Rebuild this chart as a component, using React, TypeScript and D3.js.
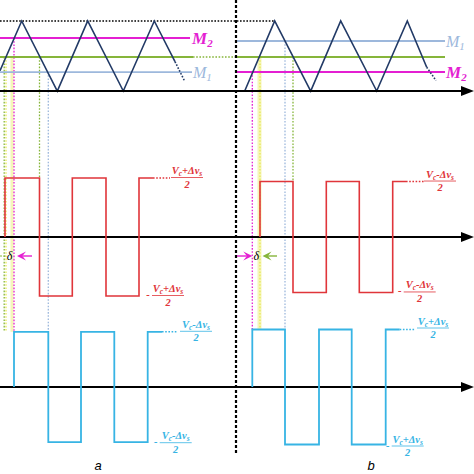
import React from 'react';
import * as d3 from 'd3';

const W = 474;
const H = 474;

// carrier (triangle) vertices, [time, level 0..1]
const carrierA: [number, number][] = [[0, 0.29], [21.7, 1], [57.3, 0], [87.7, 1], [123.3, 0], [154.3, 1], [175, 0.42]];
const carrierATail: [number, number][] = [[175, 0.42], [184.3, 0.15]];
const carrierB: [number, number][] = [[244.7, 0], [274.7, 1], [310.7, 0], [340.7, 1], [376.7, 0], [407.3, 1], [426.7, 0.34]];
const carrierBTail: [number, number][] = [[426.7, 0.34], [436, 0.15]];

// modulating levels [M2, mid, M1]
const levelsA = [0.757, 0.486, 0.271];
const levelsB = [0.271, 0.486, 0.714];

// switching instants (pulse edges), solid end, dotted end
const redEdgesA = [5, 39.5, 72.3, 106, 139];
const redEndA = [153, 170];
const blueEdgesA = [14, 48.3, 81, 114.3, 147.7];
const blueEndA = [162, 178];
const redEdgesB = [260, 293, 326.3, 359.3, 392.7];
const redEndB = [406, 424];
const blueEdgesB = [252.3, 285, 319, 351.7, 385.7];
const blueEndB = [399.7, 415];

// pulse amplitudes (relative)
const ampRed = [1, 0.94];
const ampBlue = [0.96, 1];

const panelSplit = 236;
const panelLabels = ['a', 'b'];
const panelLabelAt = [98, 371];

const C = {
  navy: '#223a66',
  red: '#e0353a',
  blue: '#37b4e4',
  magenta: '#e41fd2',
  green: '#86b53a',
  light: '#9db8dc',
  yellow: '#e6e85a',
};

const x = d3.scaleLinear().domain([0, W]).range([0, W]);
const yCar = d3.scaleLinear().domain([0, 1]).range([91, 21]);
const yRed = d3.scaleLinear().domain([-1, 1]).range([296, 178]);
const yBlue = d3.scaleLinear().domain([-1, 1]).range([444.5, 329.5]);

const dotted = '1.6,1.6';

function pulse(edges: number[], amp: number, end: number): [number, number][] {
  const pts: [number, number][] = [[edges[0], 0]];
  edges.forEach((e, i) => pts.push([e, i % 2 === 0 ? amp : -amp]));
  pts.push([end, edges.length % 2 === 1 ? amp : -amp]);
  return pts;
}

function Frac({ cx, lvl, sign, color, minus }: { cx: number; lvl: number; sign: string; color: string; minus?: boolean }) {
  const w = 32;
  return (
    <g fill={color} fontFamily="Liberation Serif" fontStyle="italic" fontWeight="bold">
      {minus && (
        <text x={cx - w / 2 - 4} y={lvl + 2} fontSize={10.5} textAnchor="middle">-</text>
      )}
      <text x={cx} y={lvl - 4} fontSize={10.5} textAnchor="middle">
        V<tspan fontSize={7.5} dy={2}>c</tspan>
        <tspan dy={-2}>{sign}Δv</tspan>
        <tspan fontSize={7.5} dy={2}>s</tspan>
      </text>
      <line x1={cx - w / 2} x2={cx + w / 2} y1={lvl - 0.5} y2={lvl - 0.5} stroke={color} strokeWidth={0.8} />
      <text x={cx} y={lvl + 9.5} fontSize={10.5} textAnchor="middle">2</text>
    </g>
  );
}

function Arrow({ x1, x2, y, color }: { x1: number; x2: number; y: number; color: string }) {
  const d = x2 > x1 ? 1 : -1;
  const hl = 9;
  return (
    <g>
      <line x1={x1} x2={x2 - d * hl * 0.6} y1={y} y2={y} stroke={color} strokeWidth={1.4} />
      <path
        d={`M${x2},${y} L${x2 - d * hl},${y - 4.5} L${x2 - d * hl * 0.6},${y} L${x2 - d * hl},${y + 4.5} Z`}
        fill={color}
      />
    </g>
  );
}

function AxisArrow({ y }: { y: number }) {
  return (
    <g>
      <line x1={0} x2={W - 6} y1={y} y2={y} stroke="#000" strokeWidth={2} />
      <path d={`M${W},${y} L${W - 13},${y - 5} L${W - 13},${y + 5} Z`} fill="#000" />
    </g>
  );
}

export default function App() {
  const line = d3.line<[number, number]>().x((d) => x(d[0])).y((d) => yCar(d[1]));
  const lineRed = d3.line<[number, number]>().x((d) => x(d[0])).y((d) => yRed(d[1])).curve(d3.curveStepAfter);
  const lineBlue = d3.line<[number, number]>().x((d) => x(d[0])).y((d) => yBlue(d[1])).curve(d3.curveStepAfter);

  const redA = pulse(redEdgesA, ampRed[0], redEndA[0]);
  const redB = pulse(redEdgesB, ampRed[1], redEndB[0]);
  const blueA = pulse(blueEdgesA, ampBlue[0], blueEndA[0]);
  const blueB = pulse(blueEdgesB, ampBlue[1], blueEndB[0]);

  const xs = x(panelSplit);
  const vTopA = yBlue(ampBlue[0]);
  const vTopB = yBlue(ampBlue[1]);

  // vertical projection lines: [time, carrier level, bottom y, colour]
  const projA: [number, number, number, string][] = [
    [redEdgesA[0] - 0.8, levelsA[1], vTopA, C.green],
    [redEdgesA[0] + 1, levelsA[1], vTopA, C.yellow],
    [blueEdgesA[0], levelsA[0], vTopA, C.magenta],
    [redEdgesA[1], levelsA[1], yRed(ampRed[0]), C.green],
    [blueEdgesA[1], levelsA[2], vTopA, C.light],
  ];
  const projB: [number, number, number, string][] = [
    [blueEdgesB[0], levelsB[0], vTopB, C.magenta],
    [redEdgesB[0], levelsB[1], vTopB, C.yellow],
    [blueEdgesB[1], levelsB[2], vTopB, C.light],
    [redEdgesB[1], levelsB[1], yRed(ampRed[1]), C.green],
  ];

  const dY = 256;

  return (
    <svg width={W} height={H} style={{ position: 'absolute', left: 0, top: 0, background: '#fff' }}>
      {/* yellow highlight strips */}
      <rect x={x(blueEdgesA[0]) - 3.5} y={yCar(levelsA[1])} width={3} height={vTopA - yCar(levelsA[1])} fill="#f6f6b8" />
      <rect x={x(redEdgesB[0]) - 2.5} y={yCar(levelsB[1])} width={4} height={vTopB - yCar(levelsB[1])} fill="#f6f6b8" />

      {/* projection lines */}
      {[...projA, ...projB].map(([t, l, yb, c], i) => (
        <line key={i} x1={x(t)} x2={x(t)} y1={yCar(l)} y2={yb} stroke={c} strokeWidth={1.3} strokeDasharray={dotted} />
      ))}

      {/* top dotted peak line */}
      <line x1={0} x2={x(carrierB[1][0])} y1={yCar(1)} y2={yCar(1)} stroke="#000" strokeWidth={1.3} strokeDasharray={dotted} />

      {/* modulating levels, panel a */}
      <line x1={0} x2={x(190)} y1={yCar(levelsA[0])} y2={yCar(levelsA[0])} stroke={C.magenta} strokeWidth={2} />
      <line x1={0} x2={x(193)} y1={yCar(levelsA[1])} y2={yCar(levelsA[1])} stroke={C.green} strokeWidth={1.8} />
      <line x1={x(193)} x2={xs} y1={yCar(levelsA[1])} y2={yCar(levelsA[1])} stroke={C.green} strokeWidth={1.3} strokeDasharray={dotted} />
      <line x1={0} x2={x(192)} y1={yCar(levelsA[2])} y2={yCar(levelsA[2])} stroke={C.light} strokeWidth={1.8} />
      {/* panel b */}
      <line x1={xs} x2={x(445)} y1={yCar(levelsB[2])} y2={yCar(levelsB[2])} stroke={C.light} strokeWidth={1.8} />
      <line x1={xs} x2={x(445)} y1={yCar(levelsB[1])} y2={yCar(levelsB[1])} stroke={C.green} strokeWidth={1.8} />
      <line x1={xs} x2={x(445)} y1={yCar(levelsB[0])} y2={yCar(levelsB[0])} stroke={C.magenta} strokeWidth={2} />

      <g fontFamily="Liberation Serif" fontStyle="italic">
        <text x={x(192)} y={yCar(levelsA[0]) + 6} fontSize={17} fontWeight="bold" fill={C.magenta}>
          M<tspan fontSize={11} dy={3}>2</tspan>
        </text>
        <text x={x(193)} y={yCar(levelsA[2]) + 6} fontSize={16} fill={C.light}>
          M<tspan fontSize={11} dy={3}>1</tspan>
        </text>
        <text x={x(446)} y={yCar(levelsB[2]) + 6} fontSize={16} fill={C.light}>
          M<tspan fontSize={11} dy={3}>1</tspan>
        </text>
        <text x={x(446)} y={yCar(levelsB[0]) + 6} fontSize={17} fontWeight="bold" fill={C.magenta}>
          M<tspan fontSize={11} dy={3}>2</tspan>
        </text>
      </g>

      {/* carriers */}
      <path d={line(carrierA) ?? ''} fill="none" stroke={C.navy} strokeWidth={1.6} />
      <path d={line(carrierATail) ?? ''} fill="none" stroke={C.navy} strokeWidth={1.6} strokeDasharray={dotted} />
      <path d={line(carrierB) ?? ''} fill="none" stroke={C.navy} strokeWidth={1.6} />
      <path d={line(carrierBTail) ?? ''} fill="none" stroke={C.navy} strokeWidth={1.6} strokeDasharray={dotted} />

      {/* axes */}
      <AxisArrow y={yCar(0)} />
      <AxisArrow y={yRed(0)} />
      <AxisArrow y={yBlue(0)} />

      {/* pulses */}
      <path d={lineRed(redA) ?? ''} fill="none" stroke={C.red} strokeWidth={1.6} />
      <line x1={x(redEndA[0])} x2={x(redEndA[1])} y1={yRed(ampRed[0])} y2={yRed(ampRed[0])} stroke={C.red} strokeWidth={1.6} strokeDasharray={dotted} />
      <path d={lineRed(redB) ?? ''} fill="none" stroke={C.red} strokeWidth={1.6} />
      <line x1={x(redEndB[0])} x2={x(redEndB[1])} y1={yRed(ampRed[1])} y2={yRed(ampRed[1])} stroke={C.red} strokeWidth={1.6} strokeDasharray={dotted} />
      <path d={lineBlue(blueA) ?? ''} fill="none" stroke={C.blue} strokeWidth={1.8} />
      <line x1={x(blueEndA[0])} x2={x(blueEndA[1])} y1={yBlue(ampBlue[0])} y2={yBlue(ampBlue[0])} stroke={C.blue} strokeWidth={1.6} strokeDasharray={dotted} />
      <path d={lineBlue(blueB) ?? ''} fill="none" stroke={C.blue} strokeWidth={1.8} />
      <line x1={x(blueEndB[0])} x2={x(blueEndB[1])} y1={yBlue(ampBlue[1])} y2={yBlue(ampBlue[1])} stroke={C.blue} strokeWidth={1.6} strokeDasharray={dotted} />

      {/* level labels */}
      <Frac cx={x(redEndA[1]) + 17} lvl={yRed(ampRed[0])} sign="+" color={C.red} />
      <Frac cx={x(redEdgesA[4]) + 29} lvl={yRed(-ampRed[0])} sign="+" color={C.red} minus />
      <Frac cx={x(redEndB[1]) + 16} lvl={yRed(ampRed[1])} sign="-" color={C.red} />
      <Frac cx={x(redEdgesB[4]) + 27} lvl={yRed(-ampRed[1])} sign="-" color={C.red} minus />
      <Frac cx={x(blueEndA[1]) + 18} lvl={yBlue(ampBlue[0])} sign="-" color={C.blue} />
      <Frac cx={x(blueEdgesA[4]) + 28} lvl={yBlue(-ampBlue[0]) + 1} sign="-" color={C.blue} minus />
      <Frac cx={x(blueEndB[1]) + 18} lvl={yBlue(ampBlue[1]) - 1} sign="+" color={C.blue} />
      <Frac cx={x(blueEdgesB[4]) + 22} lvl={yBlue(-ampBlue[1]) + 2} sign="+" color={C.blue} minus />

      {/* delta markers */}
      <line x1={0} x2={x(redEdgesA[0]) + 1} y1={dY} y2={dY} stroke={C.green} strokeWidth={1.2} strokeDasharray="2,1.5" />
      <Arrow x1={x(32)} x2={x(17)} y={dY} color={C.magenta} />
      <text x={x(9.5)} y={dY + 3.5} fontSize={12} fontFamily="Liberation Serif" fontStyle="italic" textAnchor="middle">δ</text>
      <Arrow x1={xs + 1} x2={x(blueEdgesB[0])} y={dY} color={C.magenta} />
      <text x={x(256.3)} y={dY + 3.5} fontSize={12} fontFamily="Liberation Serif" fontStyle="italic" textAnchor="middle">δ</text>
      <Arrow x1={x(277)} x2={x(redEdgesB[0]) + 2.5} y={dY} color={C.green} />

      {/* panel separator */}
      <line x1={xs} x2={xs} y1={0} y2={455} stroke="#000" strokeWidth={2.2} strokeDasharray="3,2" />

      {panelLabels.map((l, i) => (
        <text key={l} x={x(panelLabelAt[i])} y={470} fontSize={13} fontFamily="Liberation Sans" fontStyle="italic" textAnchor="middle">
          {l}
        </text>
      ))}
    </svg>
  );
}
